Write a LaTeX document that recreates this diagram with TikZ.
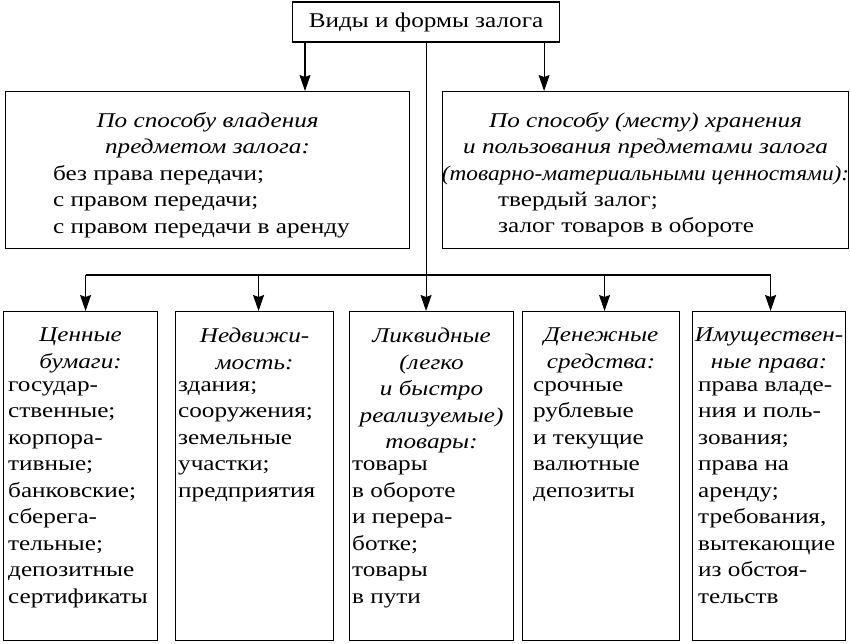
\documentclass[tikz,border=0pt]{standalone}
\usepackage{fontspec}
\setmainfont[FakeStretch=1.2]{Liberation Serif}
\usetikzlibrary{arrows.meta}
\newcommand\boxfont{\fontsize{21}{26.5}\selectfont}

\begin{document}
\begin{tikzpicture}%
	[x=1pt, y=-1pt,
	box/.style={draw, line width=1.1pt, inner sep=0pt, anchor=north west},
	head/.style={font=\boxfont\itshape, align=center, anchor=north, inner sep=0pt},
	body/.style={font=\boxfont, align=left, anchor=north west, inner sep=0pt},
	link/.style={line width=1.1pt},
	arrow/.style={link, -{Stealth[length=16pt, width=11pt, inset=2pt]}}]
%
\useasboundingbox (0,0) rectangle (850,644);
%
%% The boxes
%%
\node[box, minimum width=267pt, minimum height=40pt, font=\boxfont] (kinds) at (292,1.5) {Виды и формы залога};
\node[box, minimum width=404pt, minimum height=157pt] (owning) at (5,91) {};
\node[box, minimum width=406pt, minimum height=157pt] (storing) at (442,91) {};
\node[box, minimum width=154pt, minimum height=329pt] (papers) at (3,311) {};
\node[box, minimum width=158pt, minimum height=329pt] (estate) at (175,311) {};
\node[box, minimum width=164pt, minimum height=329pt] (goods) at (349,311) {};
\node[box, minimum width=157pt, minimum height=329pt] (money) at (522,311) {};
\node[box, minimum width=153pt, minimum height=329pt] (rights) at (692,311) {};
%%
%% The texts in the boxes
%%
\node[head] (owning-h) at ([yshift=-21pt]owning.north) {По способу владения\\предметом залога:};
\node[body] (owning-b) at (53,165) {без права передачи;\\с правом передачи;\\с правом передачи в аренду};
\node[head] (storing-h) at ([yshift=-21pt]storing.north) {По способу (месту) хранения\\и пользования предметами залога\\\scalebox{0.925}[1]{(товарно-материальными ценностями):}};
\node[body] (storing-b) at (498,191.5) {твердый залог;\\залог товаров в обороте};
%
\node[head] (papers-h) at ([yshift=-17pt]papers.north) {Ценные\\бумаги:};
\node[body] (papers-b) at (8,381) {государ-\\ственные;\\корпора-\\тивные;\\банковские;\\сберега-\\тельные;\\депозитные\\сертификаты};
\node[head] (estate-h) at ([yshift=-17pt]estate.north) {Недвижи-\\мость:};
\node[body] (estate-b) at (178,381) {здания;\\сооружения;\\земельные\\участки;\\предприятия};
\node[head] (goods-h) at ([yshift=-17pt]goods.north) {Ликвидные\\(легко\\и быстро\\реализуемые)\\товары:};
\node[body] (goods-b) at (352,460.5) {товары\\в обороте\\и перера-\\ботке;\\товары\\в пути};
\node[head] (money-h) at ([yshift=-17pt]money.north) {Денежные\\средства:};
\node[body] (money-b) at (533,381) {срочные\\рублевые\\и текущие\\валютные\\депозиты};
\node[head] (rights-h) at ([yshift=-17pt]rights.north) {Имуществен-\\ные права:};
\node[body] (rights-b) at (698,381) {права владе-\\ния и поль-\\зования;\\права на\\аренду;\\требования,\\вытекающие\\из обстоя-\\тельств};
%%
%% The connectors
%%
\coordinate (k1) at ([xshift=13pt]kinds.south west);
\coordinate (k2) at ([xshift=-16pt]kinds.south east);
\coordinate (bar) at (425.5,275);
\draw[arrow] (k1) -- (k1 |- owning.north);
\draw[arrow] (k2) -- (k2 |- storing.north);
\draw[arrow] (kinds.south) -- (kinds.south |- goods.north);
\draw[link] ([xshift=5pt]papers.north |- bar) -- ([xshift=1.5pt]rights.north |- bar);
\foreach \b/\dx in {papers/5, estate/4, money/3.5, rights/1.5}
	\draw[arrow] ([xshift=\dx pt]\b.north |- bar) -- ([xshift=\dx pt]\b.north);
%%
\end{tikzpicture}
\end{document}
